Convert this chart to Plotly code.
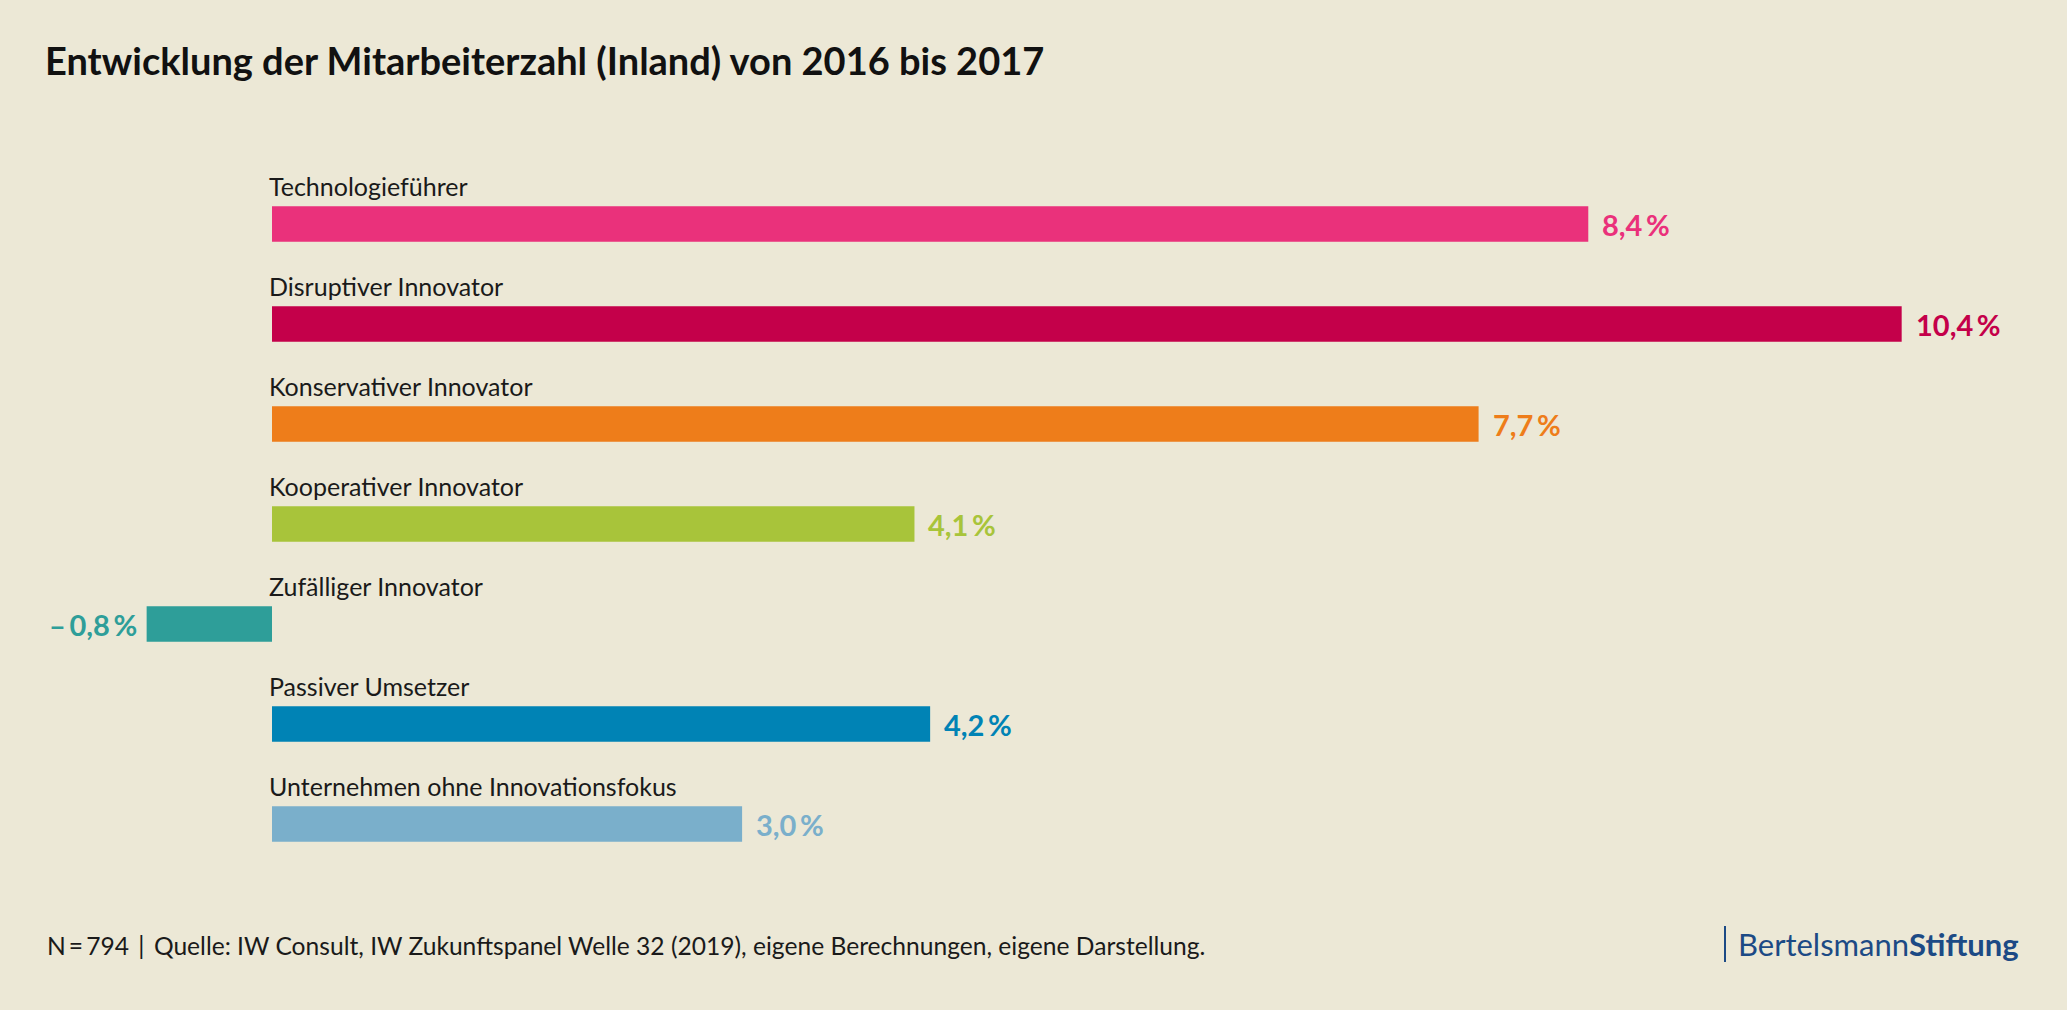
import plotly.graph_objects as go

categories = [
    "Technologieführer",
    "Disruptiver Innovator",
    "Konservativer Innovator",
    "Kooperativer Innovator",
    "Zufälliger Innovator",
    "Passiver Umsetzer",
    "Unternehmen ohne Innovationsfokus",
]
values = [8.4, 10.4, 7.7, 4.1, -0.8, 4.2, 3.0]
bar_colors = ["#EA317B", "#C4004A", "#EE7D1A", "#A8C43A", "#2E9E99", "#0083B5", "#7AAFCB"]

title_text = "Entwicklung der Mitarbeiterzahl (Inland) von 2016 bis 2017"
source_text = "N\u2009=\u2009794 \u2009|\u2009 Quelle: IW Consult, IW Zukunftspanel Welle 32 (2019), eigene Berechnungen, eigene Darstellung."

W, H = 2067, 1010
BG = "#ECE8D6"
FONT = "Lato"
LOGO_BLUE = "#1C4A85"


def fmt(v):
    s = f"{abs(v):.1f}".replace(".", ",") + "\u2009%"
    return ("\u2013\u2009" + s) if v < 0 else s


fig = go.Figure()
fig.add_trace(go.Bar(
    y=categories,
    x=values,
    orientation="h",
    marker=dict(color=bar_colors, line=dict(width=0)),
    width=0.355,
    hoverinfo="skip",
))

annotations = []
for cat, v, c in zip(categories, values, bar_colors):
    annotations.append(dict(
        x=0, y=cat, xref="x", yref="y", text=cat, showarrow=False,
        xanchor="left", yanchor="middle", yshift=38, xshift=-5,
        font=dict(family=FONT, size=25, color="#1A1A1A"),
    ))
    annotations.append(dict(
        x=v, y=cat, xref="x", yref="y", text=fmt(v), showarrow=False,
        xanchor="left" if v >= 0 else "right",
        xshift=12 if v >= 0 else -8, yanchor="middle", yshift=0,
        font=dict(family=FONT, size=29, color=c, weight="bold"),
    ))

top, bottom = 174, 136
ph = H - top - bottom


def py(p):
    return (H - bottom - p) / ph


annotations.append(dict(
    x=45 / W, y=py(946), xref="paper", yref="paper", text=source_text,
    showarrow=False, xanchor="left", yanchor="middle",
    font=dict(family=FONT, size=24.6, color="#1A1A1A"),
))
annotations.append(dict(
    x=1736 / W, y=py(944), xref="paper", yref="paper",
    text="Bertelsmann<b>Stiftung</b>",
    showarrow=False, xanchor="left", yanchor="middle",
    font=dict(family=FONT, size=31, color=LOGO_BLUE),
))

px_per_unit = 156.7
zero_px = 272
x0 = -zero_px / px_per_unit
x1 = x0 + W / px_per_unit

fig.update_layout(
    width=W, height=H,
    paper_bgcolor=BG, plot_bgcolor=BG,
    margin=dict(l=0, r=0, t=top, b=bottom, pad=0),
    showlegend=False,
    title=dict(
        text=f"<b>{title_text}</b>",
        x=45 / W, xanchor="left", xref="paper",
        y=1 - 62 / H, yanchor="middle", yref="container",
        font=dict(family=FONT, size=38, color="#111111"),
    ),
    xaxis=dict(range=[x0, x1], visible=False, fixedrange=True),
    yaxis=dict(autorange=False, range=[6.5, -0.5], visible=False, fixedrange=True,
               type="category", categoryorder="array", categoryarray=categories),
    annotations=annotations,
    shapes=[dict(
        type="line", xref="paper", yref="paper",
        x0=1725 / W, x1=1725 / W, y0=py(926), y1=py(962),
        line=dict(color=LOGO_BLUE, width=2),
    )],
)

fig.write_html("out.html", config={"displayModeBar": False, "staticPlot": True},
               post_script="document.body.style.margin='0';")
